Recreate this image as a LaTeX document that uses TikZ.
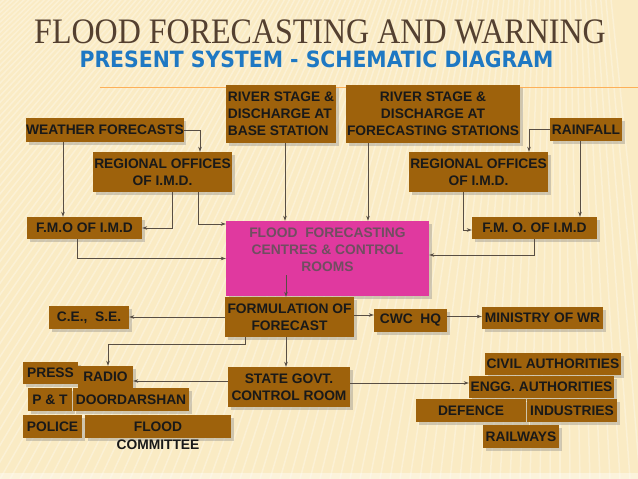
\documentclass[tikz,border=0pt]{standalone}
\usepackage{fontspec}
\setmainfont{Liberation Sans}
\newfontfamily\titlefont{Liberation Serif}
\newfontfamily\subtitlefont{DejaVu Sans}
\usetikzlibrary{arrows.meta,positioning,calc,shadows}
\definecolor{bgcream}{RGB}{250,235,196}
\definecolor{boxbrown}{RGB}{158,98,12}
\definecolor{ffcpink}{RGB}{224,57,159}
\definecolor{ffcgray}{RGB}{112,78,96}
\definecolor{linegray}{RGB}{88,78,68}
\definecolor{titlebrown}{RGB}{84,64,48}
\definecolor{subblue}{RGB}{30,120,195}
\newcommand{\bxfont}{\fontsize{13.8pt}{16.8pt}\selectfont\bfseries}
\tikzset{bx/.style={fill=boxbrown,inner sep=0pt,align=center,text=black!90,font=\bxfont,
    drop shadow={shadow xshift=2.5pt,shadow yshift=-2.5pt,opacity=0.35}},
  wh/.style 2 args={minimum width=#1pt,minimum height=#2pt},
  ffclabel/.style={align=center,text=ffcgray,font=\bxfont,inner sep=0pt,yshift=8.5pt},
  conn/.style={draw=linegray,line width=0.7pt,-{Stealth[length=5pt,width=3.5pt]}}}

\begin{document}
\begin{tikzpicture}[x=1pt,y=-1pt]
\useasboundingbox (0,0) rectangle (638,479);
% background
\fill[bgcream] (0,0) rectangle (638,479);
\begin{scope}
\clip (0,0) rectangle (638,479);
\foreach \k in {-110,...,10}
  \draw[white,opacity=0.3,line width=1.5pt] (560,-500) -- ++({\k*10},979);
\end{scope}
\fill[white,opacity=0.4] (0,473) rectangle (638,479);
\draw[orange!55!bgcream,line width=0.6pt] (100,87) -- (638,87);
% titles
\node[anchor=base,font=\titlefont\fontsize{32pt}{32pt}\selectfont,text=titlebrown]
  (title) at (320,43) {\scalebox{1}[1.12]{FLOOD FORECASTING AND WARNING}};
\node[anchor=base,font=\subtitlefont\fontsize{20pt}{20pt}\selectfont\bfseries,text=subblue]
  (subtitle) at (316.5,67) {\scalebox{1.02}[1.12]{PRESENT SYSTEM - SCHEMATIC DIAGRAM}};
% inputs
\node[bx,wh={156}{24}] (wf) at (105,130) {WEATHER FORECASTS};
\node[bx,align=left,wh={110}{58}] (rsb) at (281,114) {RIVER STAGE \&\\DISCHARGE AT\\BASE STATION};
\node[bx,wh={174}{58}] (rsf) at (433,114) {RIVER STAGE \&\\DISCHARGE AT\\FORECASTING STATIONS};
\node[bx,wh={72}{23}] (rain) at (586,129.5) {RAINFALL};
\node[bx,wh={139}{40}] (rol) at (162.5,172) {REGIONAL OFFICES\\OF I.M.D.};
\node[bx,wh={139}{40}] (ror) at (478.5,172) {REGIONAL OFFICES\\OF I.M.D.};
\node[bx,wh={115}{22}] (fmol) at (84.5,228) {F.M.O OF I.M.D};
\node[bx,wh={125}{22}] (fmor) at (534.5,228) {F.M. O. OF I.M.D};
% centre
\node[bx,fill=ffcpink,wh={203}{75},
  label={[ffclabel]center:{FLOOD\ \ FORECASTING\\CENTRES \& CONTROL\\ROOMS}}]
  (ffc) at (327.5,258.5) {};
\node[bx,wh={129}{40}] (form) at (289.5,317) {FORMULATION OF\\FORECAST};
\node[bx,wh={80}{23}] (ce) at (89,317.5) {C.E.,\ \ S.E.};
\node[bx,wh={73}{23}] (cwc) at (410.5,320.5) {CWC\ \ HQ};
\node[bx,wh={121}{22}] (min) at (542.5,318) {MINISTRY OF WR};
\node[bx,wh={122}{40}] (sg) at (289,387) {STATE GOVT.\\CONTROL ROOM};
% outputs left
\node[bx,wh={55}{22}] (press) at (50.5,373) {PRESS};
\node[bx,wh={55}{22}] (radio) at (105.5,377) {RADIO};
\node[bx,wh={44}{23}] (pt) at (50,399.5) {P \& T};
\node[bx,wh={116}{23}] (dd) at (131,399.5) {DOORDARSHAN};
\node[bx,wh={59}{23}] (police) at (52.5,426.5) {POLICE};
\node[bx,wh={146}{23},
  label={[inner sep=0pt,label distance=1pt,font=\bxfont,text=black!90]below:COMMITTEE}]
  (fc) at (158,426.5) {FLOOD};
% outputs right
\node[bx,wh={136}{22}] (civ) at (553,364) {CIVIL AUTHORITIES};
\node[bx,wh={145}{22}] (engg) at (541.5,387) {ENGG. AUTHORITIES};
\node[bx,wh={110}{23}] (def) at (471,410.5) {DEFENCE};
\node[bx,wh={90}{23}] (ind) at (572,410.5) {INDUSTRIES};
\node[bx,wh={76}{23}] (rail) at (521,436.5) {RAILWAYS};
% connectors
\draw[conn] (wf.east) -| ([xshift=37.5pt]rol.north);
\draw[conn] ([xshift=-42pt]wf.south) -- ([xshift=-42pt]wf.south |- fmol.north);
\draw[conn] ([xshift=9.5pt]rol.south) |- (fmol.east);
\draw[conn] ([xshift=35.5pt]rol.south) |- ([yshift=34.5pt]ffc.west);
\draw[conn] ([xshift=4pt]rsb.south) -- ([xshift=4pt]rsb.south |- ffc.north);
\draw[conn] ([xshift=-65pt]rsf.south) -- ([xshift=-65pt]rsf.south |- ffc.north);
\draw[conn] (rain.west) -| ([xshift=50.5pt]ror.north);
\draw[conn] ([xshift=-6pt]rain.south) -- ([xshift=-6pt]rain.south |- fmor.north);
\draw[conn] ([xshift=-15.5pt]ror.south) |- ([yshift=-2pt]fmor.west);
\draw[conn] (fmor.south) |- ([yshift=3.5pt]ffc.east);
\draw[conn] ([xshift=-7.5pt]fmol.south) |- (ffc.west);
\draw[conn] ([xshift=-41.5pt,yshift=21pt]ffc.south) -- ([xshift=-3.5pt]form.north);
\draw[conn] (form.west) -- (form.west -| ce.east);
\draw[conn] ([yshift=2pt]form.east) -- ([yshift=2pt]form.east -| cwc.west);
\draw[conn] ([yshift=4pt]cwc.east) -- ([yshift=4pt]cwc.east -| min.west);
\draw[conn] ([xshift=-3.5pt]form.south) -- ([xshift=-3.5pt]form.south |- sg.north);
\draw[conn] ([xshift=-44.5pt]form.south) -- ++(0,7) -| ([xshift=2.5pt]radio.north);
\draw[conn] ([yshift=6pt]sg.west) -- ([yshift=6pt]sg.west -| radio.east);
\draw[conn] ([yshift=4pt]sg.east) -- ([yshift=4pt]sg.east -| engg.west);
\end{tikzpicture}
\end{document}
